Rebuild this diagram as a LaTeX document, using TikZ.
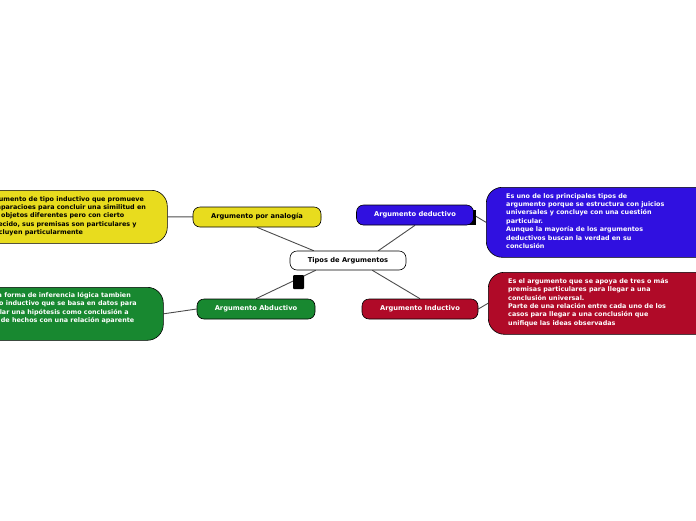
\documentclass[tikz,border=0pt]{standalone}
\usepackage{fontspec}
\setmainfont{DejaVu Sans}[BoldFont={DejaVu Sans Bold}]
\usetikzlibrary{backgrounds}
\begin{document}
\begin{tikzpicture}[x=1pt,y=-1pt,
  topic/.style={draw=black,line width=0.6pt,rounded corners=7pt,minimum height=20pt,font=\bfseries\fontsize{6.7}{7.5}\selectfont,inner sep=2pt},
  note/.style={draw=black,line width=0.6pt,rounded corners=16pt,anchor=north west,inner sep=0pt},
  ntext/.style={font=\bfseries\fontsize{6.4}{8.4}\selectfont,align=left,anchor=north west,inner sep=0pt},
  link/.style={draw=black!70,line width=0.9pt}]
\useasboundingbox (0,0) rectangle (696,520);
\definecolor{cy}{HTML}{E8DC1E}\definecolor{cb}{HTML}{3010E0}
\definecolor{cg}{HTML}{188830}\definecolor{cr}{HTML}{B00A28}
% shadows
\fill[black] (464,210) rectangle (476,225);
\fill[black,rounded corners=1pt] (293,275) rectangle (304,289);
% big notes
\node[note,fill=cy,minimum width=215pt,minimum height=53pt] (ny) at (-48,190) {};
\node[note,fill=cg,minimum width=215pt,minimum height=53pt] (ng) at (-52,287) {};
\node[note,fill=cb,minimum width=230pt,minimum height=70pt] (nb) at (486,187) {};
\node[note,fill=cr,minimum width=230pt,minimum height=62pt] (nr) at (488,272) {};
\node[ntext] (ty) at (-14,196) {Argumento de tipo inductivo que promueve\\comparacioes para concluir una similitud en\\dos objetos diferentes pero con cierto\\parecido, sus premisas son particulares y\\concluyen particularmente};
\node[ntext,text=white] (tg) at (-22,292) {Es una forma de inferencia lógica tambien\\de tipo inductivo que se basa en datos para\\formular una hipótesis como conclusión a\\partir de hechos con una relación aparente};
\node[ntext,text=white] (tb) at (506,193) {Es uno de los principales tipos de\\argumento porque se estructura con juicios\\universales y concluye con una cuestión\\particular.\\Aunque la mayoría de los argumentos\\deductivos buscan la  verdad en su\\conclusión};
\node[ntext,text=white] (tr) at (508,278) {Es el argumento que se apoya de tres o más\\premisas particulares para llegar a una\\conclusión universal.\\Parte de una relación entre cada uno de los\\casos para llegar a una conclusión que\\unifique las ideas observadas};
% topics
\node[topic,fill=white,minimum width=116pt,minimum height=19pt] (c) at (348,260.5) {Tipos de Argumentos};
\node[topic,fill=cy,minimum width=128pt] (a) at (257,217) {Argumento por analogía};
\node[topic,fill=cb,text=white,minimum width=117pt] (d) at (415,215) {Argumento deductivo};
\node[topic,fill=cg,text=white,minimum width=118pt] (ab) at (256,309) {Argumento Abductivo};
\node[topic,fill=cr,text=white,minimum width=116pt] (i) at (420,309) {Argumento Inductivo};
% links
\begin{scope}[on background layer]
\draw[link] (a.east) -- (ny.east);
\draw[link] (ab.west) -- (ng.east);
\draw[link] (d.east) -- (nb.west);
\draw[link] (i.east) -- (nr.west);
\draw[link] (c.north west)++(24,0) -- (a.south);
\draw[link] (c.south west)++(26,0) -- (ab.north);
\draw[link] (c.north east)++(-28,0) -- (d.south);
\draw[link] (c.south east)++(-34,0) -- (i.north);
\end{scope}
\end{tikzpicture}
\end{document}
